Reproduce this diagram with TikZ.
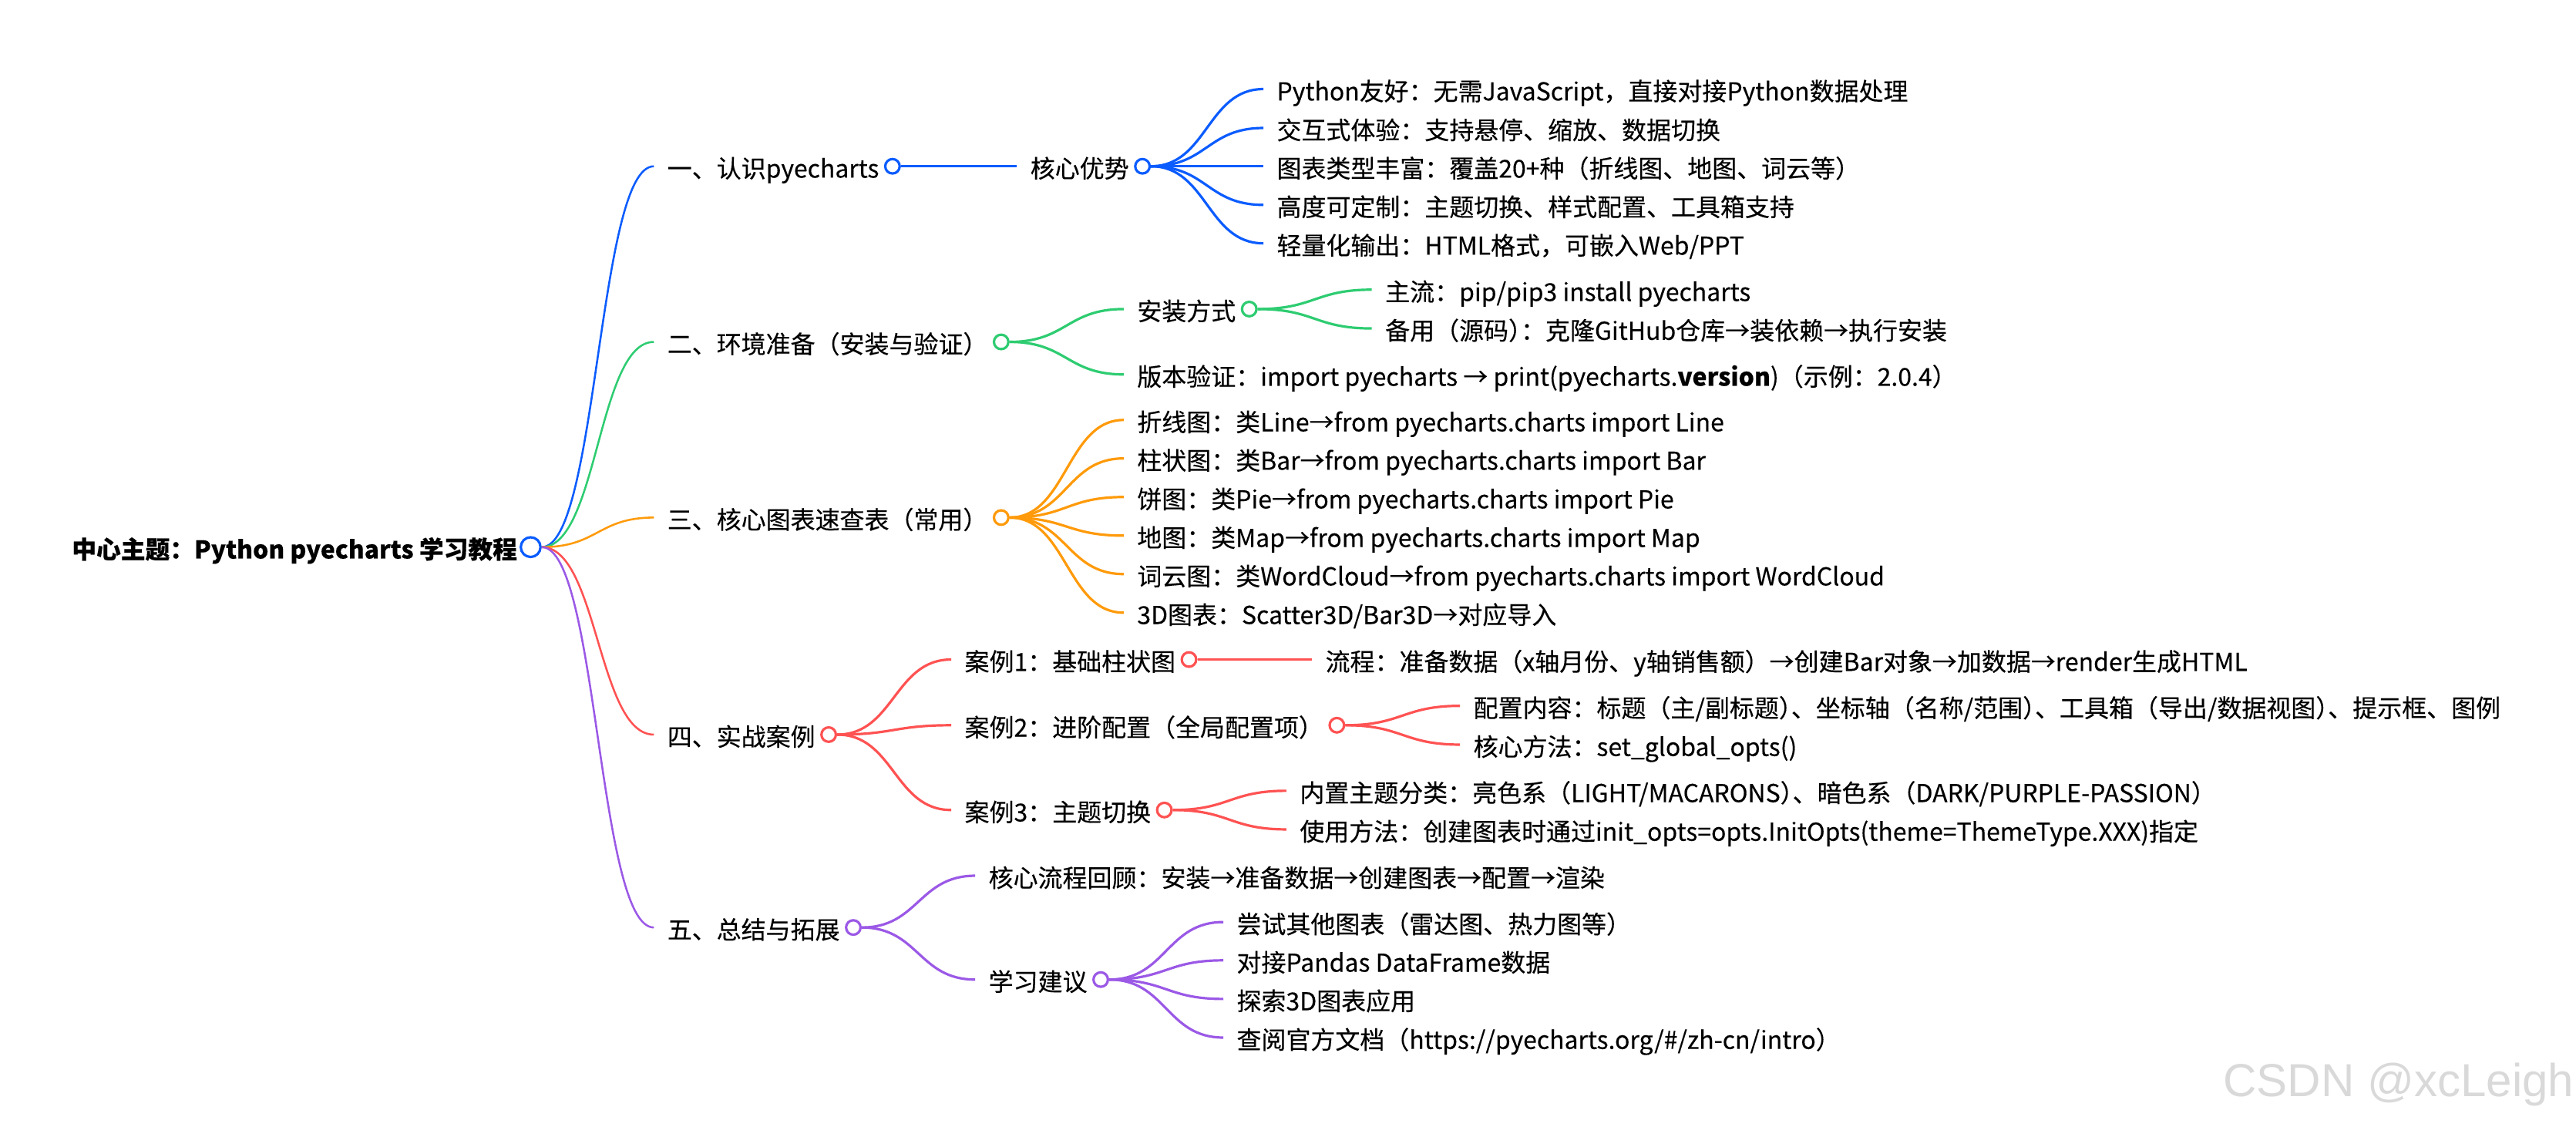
\documentclass[tikz,border=0pt]{standalone}
\usepackage{fontspec}
\setmainfont[RawFeature={embolden=0.3}]{Noto Sans CJK SC}
\newfontfamily\wmfont{Liberation Sans}
\usetikzlibrary{calc}
\definecolor{cblue}{HTML}{0B5CFF}
\definecolor{cgreen}{HTML}{2ECC71}
\definecolor{corange}{HTML}{FF9A0A}
\definecolor{cred}{HTML}{FF5252}
\definecolor{cpurple}{HTML}{9B59E6}
\newcommand{\trim}{\kern-.5em\relax}
\tikzset{
  topic/.style={anchor=west,inner xsep=8pt,inner ysep=0pt,text height=17.4pt,text depth=3.6pt,font=\fontsize{15}{18}\selectfont,text=black},
  mdot/.style={circle,draw=#1,fill=white,inner sep=0pt,minimum size=8.8pt,line width=1.5pt},
  rootdot/.style={circle,draw=cblue,fill=white,inner sep=0pt,minimum size=12pt,line width=1.5pt},
  link/.style={line width=1.2pt,draw=#1},
  linkb/.style={line width=1.5pt,draw=#1},
  wm/.style={anchor=west,inner sep=0pt,text=black!15,font=\wmfont\fontsize{28.2}{32}\selectfont}
}
\newcommand{\lnk}[3]{\draw[link=#1] (#2) .. controls ($(#2)!.5!(#3 |- #2)$) and ($(#2 |- #3)!.5!(#3)$) .. (#3);}
\newcommand{\lnb}[3]{\draw[linkb=#1] (#2) .. controls ($(#2)!.5!(#3 |- #2)$) and ($(#2 |- #3)!.5!(#3)$) .. (#3);}
\begin{document}
\begin{tikzpicture}[x=1pt,y=-1pt]
\useasboundingbox (0,0) rectangle (1568,685.93);
% root
\node[topic,font=\fontsize{14.9}{18}\selectfont\bfseries,anchor=east] (root) at (323,333) {中心主题：Python pyecharts 学习教程};
\node[rootdot] (r) at (root.east) {};
% branch 1
\node[topic] (a) at (398,101.2) {一、认识pyecharts};
\node[mdot=cblue] (ad) at (a.east) {};
\node[topic] (a1) at (619,101.2) {核心优势};
\node[mdot=cblue] (a1d) at (a1.east) {};
\node[topic] (a11) at (769,54.2) {Python友好：无需JavaScript，直接对接Python数据处理};
\node[topic] (a12) at (769,77.9) {交互式体验：支持悬停、缩放、数据切换};
\node[topic] (a13) at (769,101.2) {图表类型丰富：覆盖20+种（折线图、地图、词云等）};
\node[topic] (a14) at (769,124.7) {高度可定制：主题切换、样式配置、工具箱支持};
\node[topic] (a15) at (769,148.1) {轻量化输出：HTML格式，可嵌入Web/PPT};
\lnk{cblue}{r.east}{a.west}
\lnb{cblue}{ad.east}{a1.west}
\lnb{cblue}{a1d.east}{a11.west}
\lnb{cblue}{a1d.east}{a12.west}
\lnb{cblue}{a1d.east}{a13.west}
\lnb{cblue}{a1d.east}{a14.west}
\lnb{cblue}{a1d.east}{a15.west}
% branch 2
\node[topic] (b) at (398,208.1) {二、环境准备（安装与验证）};
\node[mdot=cgreen] (bd) at (b.east) {};
\node[topic] (b1) at (684,188.1) {安装方式};
\node[mdot=cgreen] (b1d) at (b1.east) {};
\node[topic] (b11) at (835,176.3) {主流：pip/pip3 install pyecharts};
\node[topic] (b12) at (835,199.9) {备用（源码）\trim：克隆GitHub仓库→装依赖→执行安装};
\node[topic] (b2) at (684,227.9) {版本验证：import pyecharts → print(pyecharts.\textbf{version})（示例：2.0.4）};
\lnk{cgreen}{r.east}{b.west}
\lnb{cgreen}{bd.east}{b1.west}
\lnb{cgreen}{bd.east}{b2.west}
\lnb{cgreen}{b1d.east}{b11.west}
\lnb{cgreen}{b1d.east}{b12.west}
% branch 3
\node[topic] (c) at (398,315) {三、核心图表速查表（常用）};
\node[mdot=corange] (cd) at (c.east) {};
\node[topic] (c1) at (684,255.6) {折线图：类Line→from pyecharts.charts import Line};
\node[topic] (c2) at (684,279) {柱状图：类Bar→from pyecharts.charts import Bar};
\node[topic] (c3) at (684,302.5) {饼图：类Pie→from pyecharts.charts import Pie};
\node[topic] (c4) at (684,326) {地图：类Map→from pyecharts.charts import Map};
\node[topic] (c5) at (684,349.4) {词云图：类WordCloud→from pyecharts.charts import WordCloud};
\node[topic] (c6) at (684,372.9) {3D图表：Scatter3D/Bar3D→对应导入};
\lnk{corange}{r.east}{c.west}
\foreach \k in {1,...,6}{\lnb{corange}{cd.east}{c\k.west}}
% branch 4
\node[topic] (e) at (398,447.1) {四、实战案例};
\node[mdot=cred] (ed) at (e.east) {};
\node[topic] (e1) at (579,401.4) {案例1：基础柱状图};
\node[mdot=cred] (e1d) at (e1.east) {};
\node[topic] (e11) at (798.6,401.4) {流程：准备数据（x轴月份、y轴销售额）→创建Bar对象→加数据→render生成HTML};
\node[topic] (e2) at (579,441.4) {案例2：进阶配置（全局配置项）};
\node[mdot=cred] (e2d) at (e2.east) {};
\node[topic] (e21) at (888.7,429.6) {配置内容：标题（主/副标题）\trim、坐标轴（名称/范围）\trim、工具箱（导出/数据视图）\trim、提示框、图例};
\node[topic] (e22) at (888.7,453.2) {核心方法：set\_global\_opts()};
\node[topic] (e3) at (579,493) {案例3：主题切换};
\node[mdot=cred] (e3d) at (e3.east) {};
\node[topic] (e31) at (783,481.3) {内置主题分类：亮色系（LIGHT/MACARONS）\trim、暗色系（DARK/PURPLE-PASSION）};
\node[topic] (e32) at (783,504.8) {使用方法：创建图表时通过init\_opts=opts.InitOpts(theme=ThemeType.XXX)指定};
\lnk{cred}{r.east}{e.west}
\lnb{cred}{ed.east}{e1.west}
\lnb{cred}{ed.east}{e2.west}
\lnb{cred}{ed.east}{e3.west}
\lnb{cred}{e1d.east}{e11.west}
\lnb{cred}{e2d.east}{e21.west}
\lnb{cred}{e2d.east}{e22.west}
\lnb{cred}{e3d.east}{e31.west}
\lnb{cred}{e3d.east}{e32.west}
% branch 5
\node[topic] (f) at (398,564.5) {五、总结与拓展};
\node[mdot=cpurple] (fd) at (f.east) {};
\node[topic] (f1) at (593.6,533) {核心流程回顾：安装→准备数据→创建图表→配置→渲染};
\node[topic] (f2) at (593.6,596.2) {学习建议};
\node[mdot=cpurple] (f2d) at (f2.east) {};
\node[topic] (f21) at (744.6,561.2) {尝试其他图表（雷达图、热力图等）};
\node[topic] (f22) at (744.6,584.5) {对接Pandas DataFrame数据};
\node[topic] (f23) at (744.6,608) {探索3D图表应用};
\node[topic] (f24) at (744.6,631.5) {查阅官方文档（https://pyecharts.org/\#/zh-cn/intro）};
\lnk{cpurple}{r.east}{f.west}
\lnb{cpurple}{fd.east}{f1.west}
\lnb{cpurple}{fd.east}{f2.west}
\lnb{cpurple}{f2d.east}{f21.west}
\lnb{cpurple}{f2d.east}{f22.west}
\lnb{cpurple}{f2d.east}{f23.west}
\lnb{cpurple}{f2d.east}{f24.west}
% watermark
\node[wm] (w) at (1353,660) {CSDN @xcLeigh};
\end{tikzpicture}
\end{document}
